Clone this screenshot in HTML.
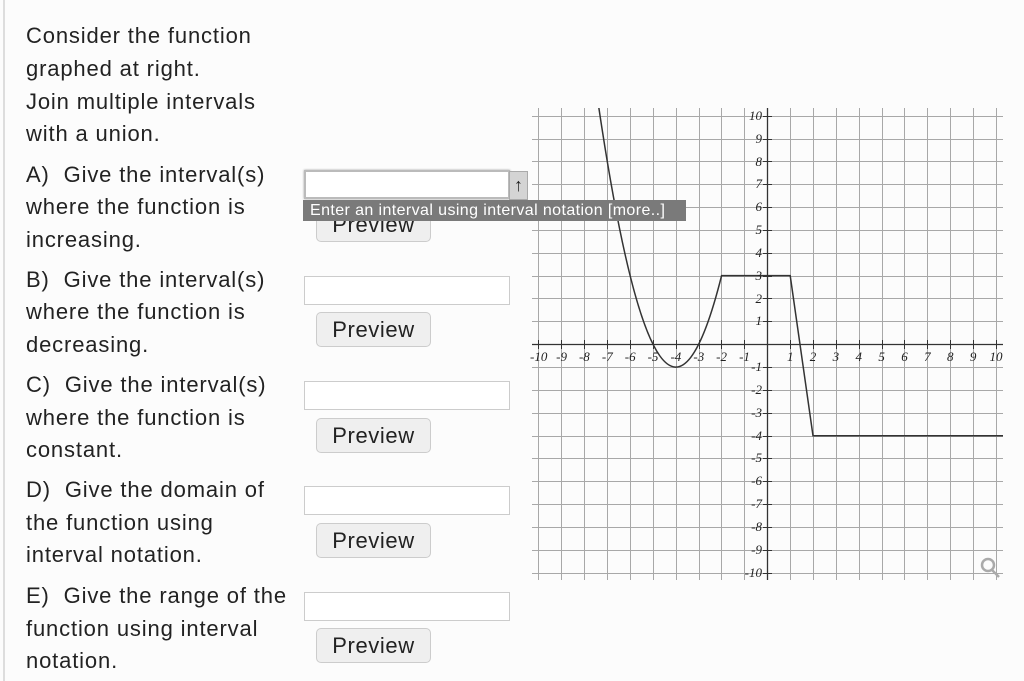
<!DOCTYPE html>
<html><head><meta charset="utf-8"><style>
body{margin:0;width:1024px;height:681px;background:#fcfcfc;position:relative;overflow:hidden;font-family:"Liberation Sans",sans-serif}
.t{position:absolute;left:26px;font-size:22px;line-height:24px;height:24px;color:#222;white-space:nowrap;letter-spacing:0.85px}
.in{position:absolute;left:304px;width:204px;height:27px;border:1px solid #ccc;background:#fff}
.btn{position:absolute;left:316px;width:113px;height:33px;border:1px solid #ccc;border-radius:5px;background:#efefef;font-size:22px;letter-spacing:0.6px;line-height:33px;text-align:center;color:#222}
</style></head><body>
<div style="position:absolute;left:3px;top:0;width:2px;height:681px;background:#ddd"></div>
<div class="t" style="top:24px">Consider the function</div>
<div class="t" style="top:57px">graphed at right.</div>
<div class="t" style="top:90px">Join multiple intervals</div>
<div class="t" style="top:122px">with a union.</div>
<div class="t" style="top:163px">A)&nbsp; Give the interval(s)</div>
<div class="t" style="top:195px">where the function is</div>
<div class="t" style="top:228px">increasing.</div>
<div class="t" style="top:268px">B)&nbsp; Give the interval(s)</div>
<div class="t" style="top:300px">where the function is</div>
<div class="t" style="top:333px">decreasing.</div>
<div class="t" style="top:373px">C)&nbsp; Give the interval(s)</div>
<div class="t" style="top:406px">where the function is</div>
<div class="t" style="top:438px">constant.</div>
<div class="t" style="top:478px">D)&nbsp; Give the domain of</div>
<div class="t" style="top:511px">the function using</div>
<div class="t" style="top:543px">interval notation.</div>
<div class="t" style="top:584px">E)&nbsp; Give the range of the</div>
<div class="t" style="top:617px">function using interval</div>
<div class="t" style="top:649px">notation.</div>

<div class="btn" style="top:207px">Preview</div>
<div class="in" style="top:170px;border:2px solid #bbb;box-shadow:0 0 2px #999;width:202px;height:25px"></div>
<div style="position:absolute;left:509px;top:171px;width:17px;height:27px;background:#d4d4d4;border:1px solid #aaa;font-size:18px;line-height:27px;text-align:center;color:#222">↑</div>

<div class="in" style="top:276px"></div><div class="btn" style="top:312px">Preview</div>
<div class="in" style="top:381px"></div><div class="btn" style="top:418px">Preview</div>
<div class="in" style="top:486px"></div><div class="btn" style="top:523px">Preview</div>
<div class="in" style="top:592px"></div><div class="btn" style="top:628px">Preview</div>

<svg style="position:absolute;left:0;top:0" width="1024" height="681">
<defs>
<clipPath id="c"><rect x="532" y="108" width="471" height="472"/></clipPath>
</defs>
<g stroke="#a8a8a8" stroke-width="1" fill="none">
<path d="M538.5 108V580M561.5 108V580M584.5 108V580M607.5 108V580M630.5 108V580M653.5 108V580M676.5 108V580M699.5 108V580M721.5 108V580M744.5 108V580M790.5 108V580M813.5 108V580M836.5 108V580M859.5 108V580M882.5 108V580M904.5 108V580M927.5 108V580M950.5 108V580M973.5 108V580M996.5 108V580"/>
<path d="M532 116.5H1003M532 139.5H1003M532 161.5H1003M532 184.5H1003M532 207.5H1003M532 230.5H1003M532 253.5H1003M532 276.5H1003M532 298.5H1003M532 321.5H1003M532 367.5H1003M532 390.5H1003M532 413.5H1003M532 436.5H1003M532 458.5H1003M532 481.5H1003M532 504.5H1003M532 527.5H1003M532 550.5H1003M532 573.5H1003"/>
</g>
<g stroke="#333" stroke-width="1.3">
<line x1="532" y1="344.5" x2="1003" y2="344.5"/>
<line x1="767.5" y1="108" x2="767.5" y2="580"/>
</g>
<g stroke="#333" stroke-width="1">
<path d="M538.5 340v9M561.5 340v9M584.5 340v9M607.5 340v9M630.5 340v9M653.5 340v9M676.5 340v9M699.5 340v9M721.5 340v9M744.5 340v9M790.5 340v9M813.5 340v9M836.5 340v9M859.5 340v9M882.5 340v9M904.5 340v9M927.5 340v9M950.5 340v9M973.5 340v9M996.5 340v9"/>
<path d="M763 116.5h9M763 139.5h9M763 161.5h9M763 184.5h9M763 207.5h9M763 230.5h9M763 253.5h9M763 276.5h9M763 298.5h9M763 321.5h9M763 367.5h9M763 390.5h9M763 413.5h9M763 436.5h9M763 458.5h9M763 481.5h9M763 504.5h9M763 527.5h9M763 550.5h9M763 573.5h9"/>
</g>
<g clip-path="url(#c)" fill="none" stroke="#333" stroke-width="1.5">
<path d="M598.1 102.7Q659.8 522.6 721.6 275.6L790.2 275.6L813 435.7L1003 435.7"/>
</g>
<g font-family="Liberation Serif,serif" font-style="italic" font-size="13" fill="#222" text-anchor="middle">
<text x="538.7" y="361">-10</text><text x="561.6" y="361">-9</text><text x="584.4" y="361">-8</text><text x="607.3" y="361">-7</text><text x="630.2" y="361">-6</text><text x="653" y="361">-5</text><text x="675.9" y="361">-4</text><text x="698.8" y="361">-3</text><text x="721.6" y="361">-2</text><text x="744.5" y="361">-1</text><text x="790.2" y="361">1</text><text x="813" y="361">2</text><text x="835.9" y="361">3</text><text x="858.8" y="361">4</text><text x="881.6" y="361">5</text><text x="904.5" y="361">6</text><text x="927.4" y="361">7</text><text x="950.3" y="361">8</text><text x="973.1" y="361">9</text><text x="996" y="361">10</text>
</g>
<g font-family="Liberation Serif,serif" font-style="italic" font-size="13" fill="#222" text-anchor="end">
<text x="762" y="120">10</text><text x="762" y="143">9</text><text x="762" y="166">8</text><text x="762" y="188">7</text><text x="762" y="211">6</text><text x="762" y="234">5</text><text x="762" y="257">4</text><text x="762" y="280">3</text><text x="762" y="303">2</text><text x="762" y="325">1</text><text x="762" y="371">-1</text><text x="762" y="394">-2</text><text x="762" y="417">-3</text><text x="762" y="440">-4</text><text x="762" y="462">-5</text><text x="762" y="485">-6</text><text x="762" y="508">-7</text><text x="762" y="531">-8</text><text x="762" y="554">-9</text><text x="762" y="577">-10</text>
</g>
<circle cx="988" cy="565" r="6" fill="none" stroke="#aaa" stroke-width="2.5"/>
<line x1="992" y1="570" x2="999" y2="577" stroke="#aaa" stroke-width="2.5"/>
</svg>
<div style="position:absolute;left:303px;top:200px;width:383px;height:21px;background:#7a7a7a;color:#fff;font-size:16px;letter-spacing:0.4px;line-height:21px;padding-left:7px;box-sizing:border-box;white-space:nowrap;z-index:5">Enter an interval using interval notation [more..]</div>
</body></html>
